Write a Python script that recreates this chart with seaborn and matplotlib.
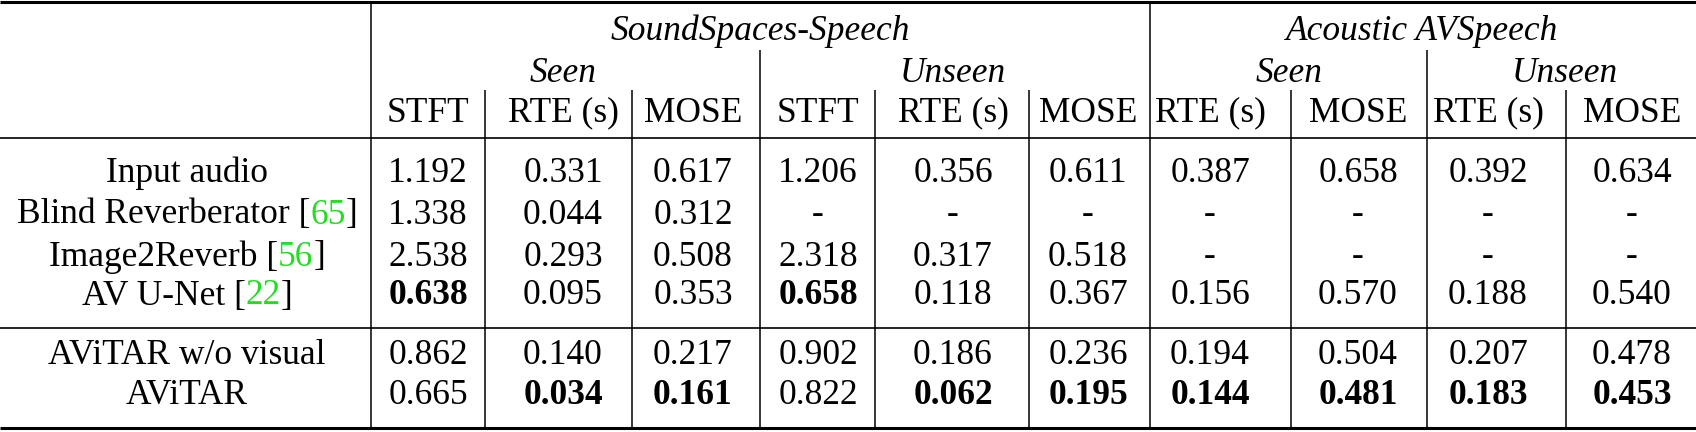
import matplotlib
matplotlib.use("Agg")
import matplotlib.pyplot as plt
import seaborn as sns

sns.set_theme(style="white")
plt.rcParams['font.family'] = ['Liberation Serif', 'DejaVu Serif']

# ── Table data ────────────────────────────────────────────────────────────────
methods = ["Input audio", "Blind Reverberator", "Image2Reverb", "AV U-Net",
           "AViTAR w/o visual", "AViTAR"]
cites = [None, "65", "56", "22", None, None]
col_heads = ["STFT", "RTE (s)", "MOSE", "STFT", "RTE (s)", "MOSE",
             "RTE (s)", "MOSE", "RTE (s)", "MOSE"]
values = [
    ["1.192", "0.331", "0.617", "1.206", "0.356", "0.611", "0.387", "0.658", "0.392", "0.634"],
    ["1.338", "0.044", "0.312", "-", "-", "-", "-", "-", "-", "-"],
    ["2.538", "0.293", "0.508", "2.318", "0.317", "0.518", "-", "-", "-", "-"],
    ["0.638", "0.095", "0.353", "0.658", "0.118", "0.367", "0.156", "0.570", "0.188", "0.540"],
    ["0.862", "0.140", "0.217", "0.902", "0.186", "0.236", "0.194", "0.504", "0.207", "0.478"],
    ["0.665", "0.034", "0.161", "0.822", "0.062", "0.195", "0.144", "0.481", "0.183", "0.453"],
]
bold = {(3, 0), (3, 3), (5, 1), (5, 2), (5, 4), (5, 5),
        (5, 6), (5, 7), (5, 8), (5, 9)}

# ── Layout (pixels) ───────────────────────────────────────────────────────────
W, H = 1696, 432
col_x = [428, 563, 693, 818, 953, 1088, 1210, 1358, 1488, 1632]
row_y = [173, 215, 257, 296, 355, 395]
FS = 25.5

fig = plt.figure(figsize=(W / 100, H / 100), dpi=100)
ax = fig.add_axes([0, 0, 1, 1])
ax.set_xlim(0, W)
ax.set_ylim(H, 0)
ax.axis("off")

kw = dict(ha="center", va="center", fontsize=FS, color="black")

# header
ax.text(760, 31, "SoundSpaces-Speech", style="italic", **kw)
ax.text(1422, 31, "Acoustic AVSpeech", style="italic", **kw)
for x, s in [(563, "Seen"), (953, "Unseen"), (1289, "Seen"), (1565, "Unseen")]:
    ax.text(x, 73, s, style="italic", **kw)
for x, s in zip(col_x, col_heads):
    ax.text(x, 113, s, **kw)

# row labels (citation numbers in green)
fig.canvas.draw()
r = fig.canvas.get_renderer()
for i, (m, c) in enumerate(zip(methods, cites)):
    y = row_y[i]
    if c is None:
        ax.text(187, y, m, **kw)
        continue
    parts = [(m + " [", "black"), (c, "#22dd22"), ("]", "black")]
    texts = [ax.text(0, y, p, ha="left", va="center", fontsize=FS, color=col)
             for p, col in parts]
    widths = [t.get_window_extent(r).width for t in texts]
    x0 = 187 - sum(widths) / 2
    for t, w in zip(texts, widths):
        t.set_x(x0)
        x0 += w

# values
for i in range(len(methods)):
    for j, v in enumerate(values[i]):
        ax.text(col_x[j], row_y[i], v,
                fontweight="bold" if (i, j) in bold else "normal", **kw)

# rules
ax.hlines(2, 0, W, color="black", lw=2.2)
ax.hlines(138, 0, W, color="black", lw=1.2)
ax.hlines(328, 0, W, color="black", lw=1.2)
ax.hlines(428, 0, W, color="black", lw=2.2)
for x in [371, 1150]:
    ax.vlines(x, 2, 428, color="black", lw=1.1)
for x in [760, 1427]:
    ax.vlines(x, 50, 428, color="black", lw=1.1)
for x in [485, 632, 875, 1029, 1291, 1566]:
    ax.vlines(x, 90, 428, color="black", lw=1.1)

fig.savefig("out.png", dpi=100)
